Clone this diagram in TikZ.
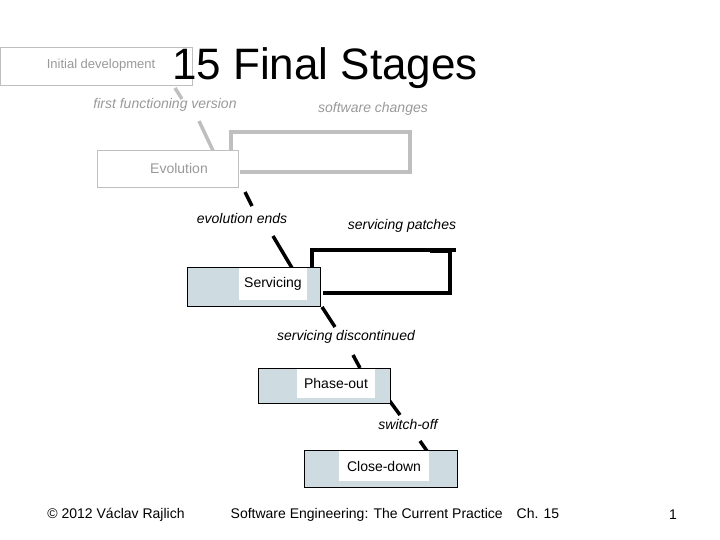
\documentclass[tikz,border=0pt]{standalone}
\usepackage{fontspec}
\setmainfont{Liberation Sans}
\begin{document}
\begin{tikzpicture}[x=1pt,y=-1pt,
  gbox/.style={draw=black!25,fill=white,line width=1pt},
  bbox/.style={draw=black,fill=cyan!25!gray!35,line width=1pt},
  lbl/.style={font=\fontsize{14}{16}\selectfont\itshape},
  glbl/.style={lbl,text=black!40},
  gline/.style={draw=black!25,line width=3.5pt},
  bline/.style={draw=black,line width=3.5pt},
  wtxt/.style={fill=white,font=\fontsize{14}{16}\selectfont,inner sep=2pt}]
\useasboundingbox (0,0) rectangle (720,540);
% gray part
\draw[gline] (175,88) -- (182,99);
\draw[gline] (199,121) -- (216,157);
\draw[gline] (231,157) -- (231,132) -- (410,132) -- (410,172) -- (240,172);
\node[gbox,minimum width=192pt,minimum height=38pt] (init) at (96,67) {};
\node[text=black!40,font=\fontsize{13}{15}\selectfont] (initt) at (101,65) {Initial development};
\node[font=\fontsize{44}{48}\selectfont] (title) at (325,68) {15 Final Stages};
\node[glbl] (ffv) at (165,105) {first functioning version};
\node[glbl] (sc) at (373,109) {software changes};
\node[gbox,minimum width=141pt,minimum height=37pt] (evo) at (167.5,169.5) {};
\node[text=black!40,font=\fontsize{14}{16}\selectfont] (evot) at (179,168) {Evolution};
% black part
\draw[bline] (245,192) -- (252,206);
\draw[bline] (273,236) -- (295,273);
\draw[bline] (312,268) -- (312,250) -- (456,250);
\draw[bline] (450,250) -- (450,293) -- (323,293);
\draw[bline] (430,251) -- (450,251);
\draw[bline] (322,307) -- (335,327);
\draw[bline] (353,355) -- (360,368);
\draw[bline] (389,400) -- (400,415);
\draw[bline] (420,441) -- (427,451);
\node[lbl] (ee) at (242,218) {evolution ends};
\node[lbl] (sp) at (402,226) {servicing patches};
\node[bbox,minimum width=133pt,minimum height=39pt] (serv) at (253.5,286.5) {};
\node[wtxt,minimum width=68pt,minimum height=32pt] (servt) at (273,284) {Servicing};
\node[lbl] (sd) at (346,337) {servicing discontinued};
\node[bbox,minimum width=132pt,minimum height=35pt] (ph) at (324,385.5) {};
\node[wtxt,minimum width=78pt,minimum height=29pt] (pht) at (336,383) {Phase-out};
\node[lbl] (so) at (408,424) {switch-off};
\node[bbox,minimum width=153pt,minimum height=37pt] (cd) at (380.5,468.5) {};
\node[wtxt,minimum width=90pt,minimum height=30pt] (cdt) at (384,466) {Close-down};
% footer
\node[font=\fontsize{14}{16}\selectfont] (f1) at (116,515) {© 2012 Václav Rajlich};
\node[font=\fontsize{14}{16}\selectfont] (f2) at (395,515) {Software Engineering: The Current Practice\quad Ch. 15};
\node[font=\fontsize{14}{16}\selectfont] (f3) at (673,515) {1};
\end{tikzpicture}
\end{document}
